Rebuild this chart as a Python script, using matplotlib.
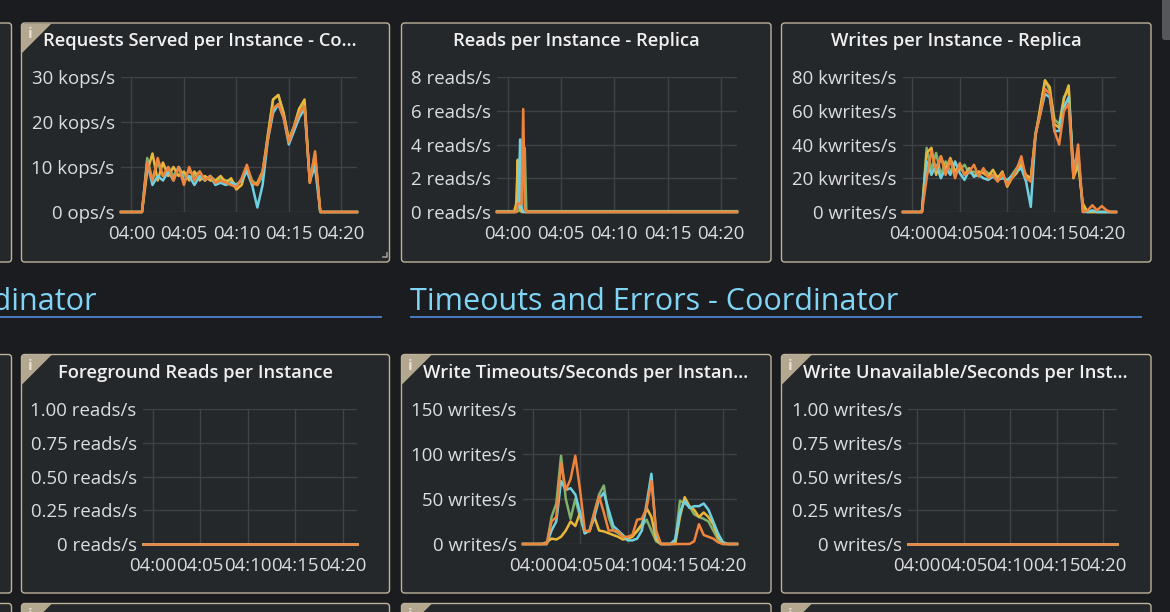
import numpy as np
import matplotlib
matplotlib.use("Agg")
import matplotlib.pyplot as plt
from matplotlib.patches import FancyBboxPatch, Polygon, Rectangle
from matplotlib.lines import Line2D
from matplotlib.transforms import IdentityTransform

W, H = 1170, 612

BG = "#1b1c1f"
PANEL = "#25282b"
BORDER = "#bdb199"
CORNER = "#b3a88f"
GRID = "#404346"
TICK = "#dcdddf"
TITLE = "#f0f0f0"
HEADER = "#80d4f5"
RULE = "#4a78bd"
SERIES_COLORS = ["#7eb26d", "#eab839", "#6ed0e0", "#ef843c"]

plt.rcParams["font.family"] = ["Open Sans", "DejaVu Sans"]

# sample times in minutes after 04:00, 30 s apart
minutes = np.arange(-1.0, 21.51, 0.5)
time_ticks = [0, 5, 10, 15, 20]
time_labels = ["04:00", "04:05", "04:10", "04:15", "04:20"]

# Requests Served per Instance - Coordinator (kops/s)
req_green = [0, 0, 0, 0, 0, 12, 7, 11, 8, 10, 8, 10, 8, 9, 8, 9, 7, 8, 7, 7.5,
             7, 7, 6, 7, 10, 7, 6, 8, 17, 25, 26, 22, 16, 19, 23, 24, 7, 13, 0, 0,
             0, 0, 0, 0, 0, 0]
req_yellow = [0, 0, 0, 0, 0, 9, 13, 7, 11, 8, 10, 8, 9, 7, 9, 7, 8, 7, 7, 8,
              6.5, 7.5, 5, 6, 10, 6, 6.5, 9, 17, 25, 26, 22, 16, 19, 23, 25, 6.5, 12, 0, 0,
              0, 0, 0, 0, 0, 0]
req_cyan = [0, 0, 0, 0, 0, 11, 6, 8, 7, 9, 7, 10, 7, 8, 6, 8, 7, 8, 6, 6.5,
            6, 6.5, 6, 7, 9, 6, 1, 6, 16, 22, 24, 21, 15, 18, 21, 23, 7, 10, 0, 0,
            0, 0, 0, 0, 0, 0]
req_orange = [0, 0, 0, 0, 0, 11, 7, 12, 8, 10, 7, 10, 6, 10, 7, 9, 7, 8, 6.5, 7,
              6.5, 6, 5.5, 7.5, 10.5, 6.5, 6, 9, 16, 23, 24, 21, 15.5, 19, 22, 23.5, 6.5, 13.5, 0, 0,
              0, 0, 0, 0, 0, 0]

# Reads per Instance - Replica (reads/s), only a short burst
reads_minutes = [-1.0, 0.6, 0.8, 0.95, 1.05, 1.17, 1.3, 1.46, 1.6, 1.75, 21.5]
reads_green = [0.05, 0.05, 0.05, 0.05, 0.05, 0.2, 1.0, 2.5, 3.8, 0.05, 0.05]
reads_yellow = [0, 0, 0.5, 3.1, 0.8, 0.2, 0, 0, 0, 0, 0]
reads_cyan = [0, 0, 0, 0.3, 1.5, 4.3, 0.3, 0, 0, 0, 0]
reads_orange = [0, 0, 0, 0.5, 0.5, 0.5, 0.5, 6.1, 0.3, 0, 0]

# Writes per Instance - Replica (kwrites/s)
wr_green = [0, 0, 0, 0, 0, 38, 25, 35, 22, 30, 24, 29, 25, 28, 23, 24, 22, 25, 23, 22,
            21, 22, 18, 22, 26, 30, 20, 20, 47, 60, 78, 72, 55, 52, 68, 73, 22, 32, 3, 0,
            0, 0, 0, 0, 0, 0]
wr_yellow = [0, 0, 0, 0, 0, 35, 38, 22, 33, 25, 32, 24, 28, 22, 26, 21, 24, 23, 21, 25,
             20, 24, 15, 20, 23, 28, 22, 20, 45, 62, 78, 74, 52, 50, 67, 75, 20, 28, 5, 0,
             0, 0, 0, 0, 0, 0]
wr_cyan = [0, 0, 0, 0, 0, 30, 22, 28, 20, 26, 22, 30, 23, 19, 25, 21, 22, 20, 19, 21,
           19, 20, 19, 21, 24, 26, 18, 3, 46, 58, 70, 68, 48, 48, 62, 68, 26, 36, 0, 0,
           1, 0, 0, 0, 0, 0]
wr_orange = [0, 0, 0, 0, 0, 20, 36, 25, 33, 22, 31, 20, 29, 22, 24, 28, 21, 26, 20, 22,
             18, 23, 16, 20, 25, 33, 20, 18, 46, 58, 73, 70, 48, 40, 60, 64, 21, 40, 0, 1,
             4, 1, 3.5, 1, 0, 0]

# Foreground Reads / Write Unavailable: flat zero
flat_minutes = [-1.0, 21.5]
flat_zero = [0, 0]

# Write Timeouts/Seconds per Instance (writes/s)
to_green = [0, 0, 0, 0, 0, 0, 30, 45, 98, 50, 28, 50, 30, 12, 15, 35, 55, 65, 30, 15,
            12, 8, 6, 10, 14, 20, 27, 15, 3, 0, 0, 0, 2, 48, 45, 42, 33, 30, 28, 25,
            15, 5, 0, 0, 0, 0]
to_yellow = [0, 0, 0, 0, 0, 2, 6, 5, 8, 15, 25, 20, 35, 12, 15, 30, 15, 14, 12, 10,
             8, 5, 6, 8, 15, 22, 40, 30, 5, 0, 0, 0, 0, 30, 52, 42, 38, 30, 35, 30,
             22, 8, 2, 0, 0, 0]
to_cyan = [0, 0, 0, 0, 0, 0, 15, 25, 70, 60, 62, 55, 35, 12, 15, 30, 50, 57, 38, 20,
           15, 10, 4, 4, 6, 15, 45, 78, 10, 0, 0, 0, 5, 35, 48, 40, 42, 42, 45, 38,
           25, 12, 2, 0, 0, 0]
to_orange = [0, 0, 0, 0, 0, 0, 25, 30, 90, 60, 72, 98, 60, 15, 14, 35, 53, 35, 15, 15,
             14, 8, 8, 10, 27, 28, 40, 70, 15, 0, 0, 0, 0, 0, 0, 0, 3, 22, 10, 8,
             6, 2, 0, 0, 0, 0]


fig = plt.figure(figsize=(W / 100, H / 100), dpi=100, facecolor=BG)
px = IdentityTransform()


def fx(x):
    return x / W


def fy(y):
    return 1 - y / H


def panel(x0, y0, x1, y1, title=None, info=False, truncated=False):
    box = FancyBboxPatch((x0, H - y1), x1 - x0, y1 - y0,
                         boxstyle="round,pad=0,rounding_size=3", transform=px,
                         facecolor=PANEL, edgecolor=BORDER, linewidth=1, zorder=-5)
    fig.add_artist(box)
    if info:
        tri = Polygon([(x0 + 0.5, H - y0 - 0.5), (x0 + 30, H - y0 - 0.5), (x0 + 0.5, H - y0 - 30)],
                      closed=True, transform=px, facecolor=CORNER, edgecolor="none", zorder=-4)
        fig.add_artist(tri)
        fig.text(fx(x0 + 9), fy(y0 + 11.5), "i", color="#e6e1d4", fontsize=11,
                 fontweight="bold", ha="center", va="center")
    if title:
        if truncated:
            # long titles fill the header and get cut with an ellipsis
            fig.text(fx(x0 + 21.5), fy(y0 + 18), title, color=TITLE, fontsize=13.2,
                     fontweight="semibold", ha="left", va="center")
        else:
            fig.text(fx((x0 + x1) / 2 - 10), fy(y0 + 18), title, color=TITLE, fontsize=13.2,
                     fontweight="semibold", ha="center", va="center")


def graph(rect, t, series, ymax, yticks, ylabels):
    x0, y0, x1, y1 = rect
    ax = fig.add_axes([fx(x0), fy(y1), (x1 - x0) / W, (y1 - y0) / H])
    ax.set_facecolor("none")
    for vals, c in zip(series, SERIES_COLORS):
        ax.plot(t, vals, color=c, lw=1.8, clip_on=False, solid_joinstyle="round")
    ax.set_xlim(t[0], t[-1])
    ax.set_ylim(0, ymax)
    ax.set_xticks(time_ticks, time_labels)
    ax.set_yticks(yticks, ylabels)
    ax.grid(color=GRID, lw=1)
    ax.set_axisbelow(True)
    for s in ax.spines.values():
        s.set_visible(False)
    ax.tick_params(axis="both", length=0, colors=TICK, labelsize=13.4)
    ax.tick_params(axis="y", pad=4.5)
    ax.tick_params(axis="x", pad=9.5)
    return ax


# row 1
panel(-20, 23, 11.5, 262)
panel(21.5, 23, 389.5, 262, "Requests Served per Instance - Co…", info=True, truncated=True)
panel(401.5, 23, 771, 262, "Reads per Instance - Replica")
panel(781.5, 23, 1151, 262, "Writes per Instance - Replica")

graph((121, 77, 357, 212), minutes, [req_green, req_yellow, req_cyan, req_orange],
      30, [0, 10, 20, 30], ["0 ops/s", "10 kops/s", "20 kops/s", "30 kops/s"])
graph((497, 77, 737, 212), reads_minutes, [reads_green, reads_yellow, reads_cyan, reads_orange],
      8, [0, 2, 4, 6, 8], ["0 reads/s", "2 reads/s", "4 reads/s", "6 reads/s", "8 reads/s"])
graph((903, 77, 1116, 212), minutes, [wr_green, wr_yellow, wr_cyan, wr_orange],
      80, [0, 20, 40, 60, 80],
      ["0 writes/s", "20 kwrites/s", "40 kwrites/s", "60 kwrites/s", "80 kwrites/s"])

# resize handle on the first panel
fig.add_artist(Line2D([383, 387, 387], [H - 257, H - 257, H - 253], transform=px,
                      color="#9a9a9a", lw=1.2))

# section headers (the left one runs off the page edge)
fig.text(97, H - 310, "Coordinator", transform=px, color=HEADER, fontsize=22,
         ha="right", va="baseline")
fig.text(410, H - 310, "Timeouts and Errors - Coordinator", transform=px,
         color=HEADER, fontsize=22, ha="left", va="baseline")
fig.add_artist(Rectangle((0, H - 318), 382, 2.5, transform=px, facecolor=RULE, edgecolor="none"))
fig.add_artist(Rectangle((410, H - 318), 732, 2.5, transform=px, facecolor=RULE, edgecolor="none"))

# row 2
panel(-20, 354.5, 11.5, 593)
panel(21.5, 354.5, 389.5, 593, "Foreground Reads per Instance", info=True)
panel(401.5, 354.5, 771, 593, "Write Timeouts/Seconds per Instan…", info=True, truncated=True)
panel(781.5, 354.5, 1151, 593, "Write Unavailable/Seconds per Inst…", info=True, truncated=True)

graph((143, 409, 357, 544), flat_minutes, [flat_zero] * 4, 1.0,
      [0, 0.25, 0.5, 0.75, 1.0],
      ["0 reads/s", "0.25 reads/s", "0.50 reads/s", "0.75 reads/s", "1.00 reads/s"])
graph((523, 409, 737, 544), minutes, [to_green, to_yellow, to_cyan, to_orange],
      150, [0, 50, 100, 150], ["0 writes/s", "50 writes/s", "100 writes/s", "150 writes/s"])
graph((908, 409, 1117, 544), flat_minutes, [flat_zero] * 4, 1.0,
      [0, 0.25, 0.5, 0.75, 1.0],
      ["0 writes/s", "0.25 writes/s", "0.50 writes/s", "0.75 writes/s", "1.00 writes/s"])

# row 3, only the tops are visible
panel(-20, 603.5, 11.5, 700)
panel(21.5, 603.5, 389.5, 700, info=True)
panel(401.5, 603.5, 771, 700, info=True)
panel(781.5, 603.5, 1151, 700, info=True)

# page scrollbar
fig.add_artist(FancyBboxPatch((1162, H - 40), 12, 44, boxstyle="round,pad=0,rounding_size=3",
                              transform=px, facecolor="#56575a", edgecolor="none"))

fig.savefig("out.png", dpi=100, facecolor=BG)
